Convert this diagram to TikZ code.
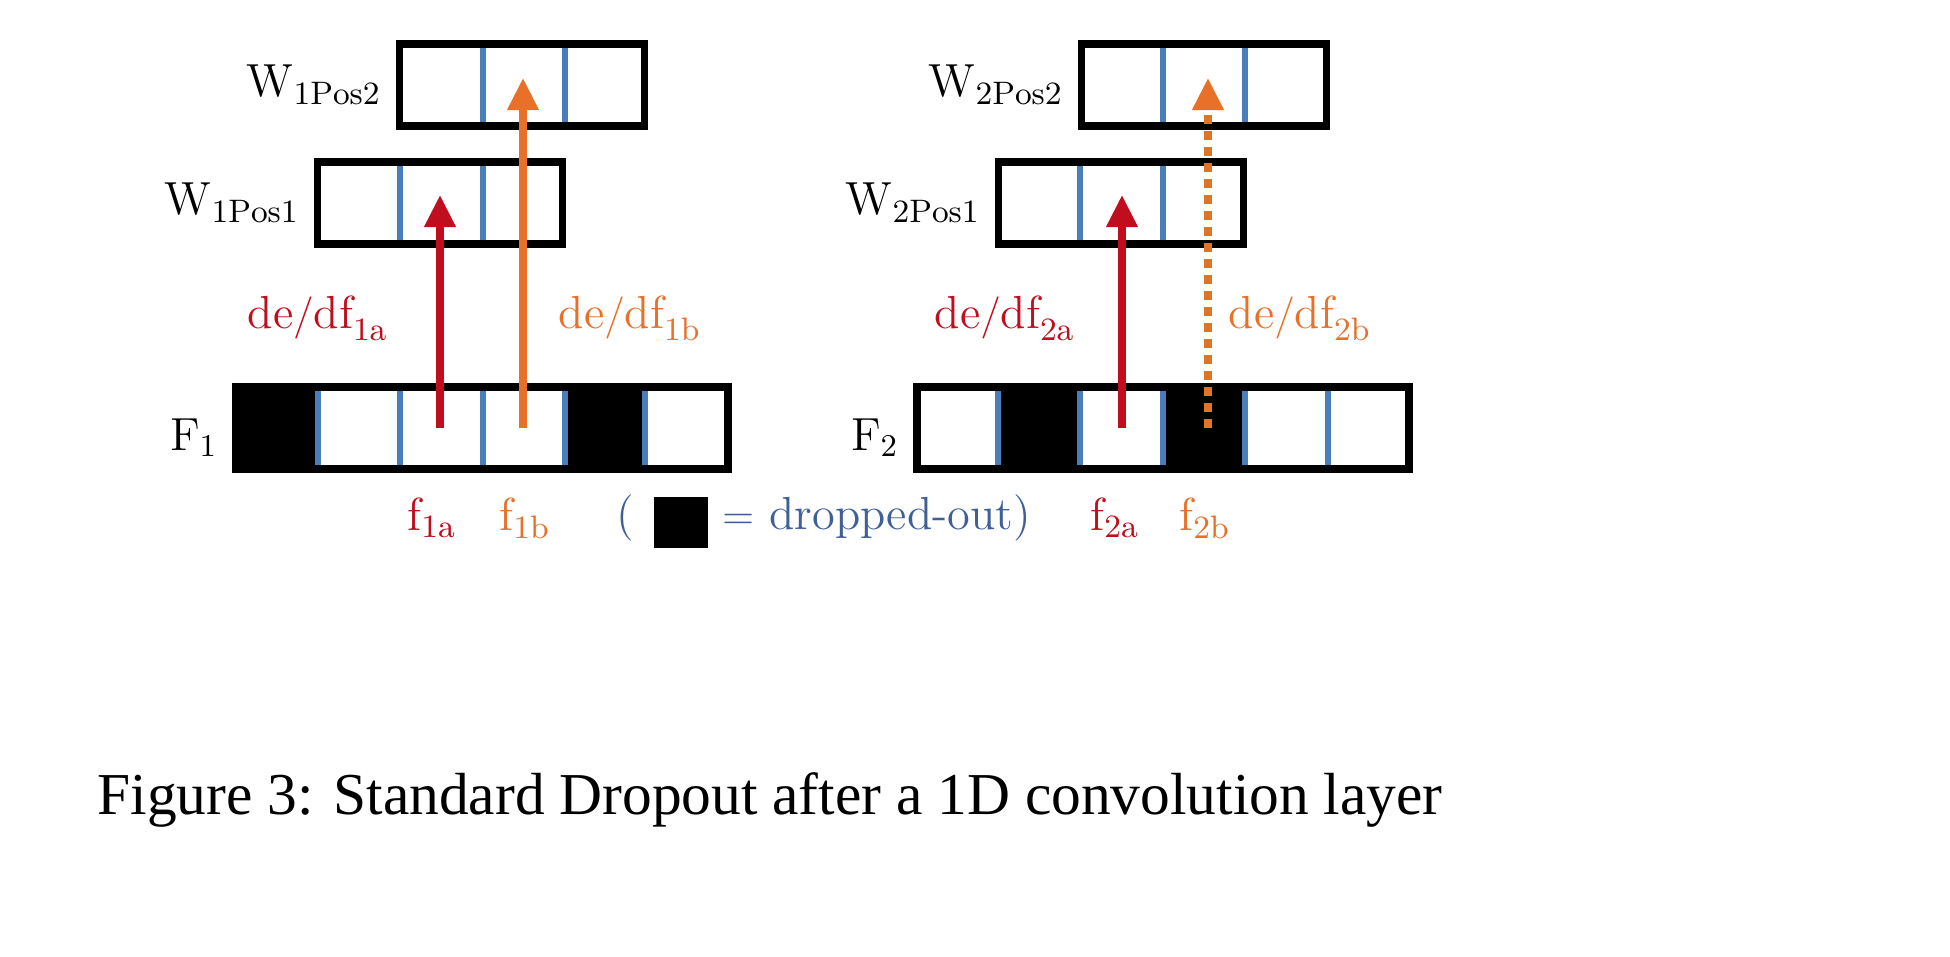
\documentclass[tikz,border=0pt]{standalone}
\usepackage{fontspec}
\newfontfamily\capfont{Liberation Serif}
\usetikzlibrary{arrows.meta}
\definecolor{cred}{RGB}{192,14,30}
\definecolor{corange}{RGB}{232,112,40}
\definecolor{cblue}{RGB}{74,126,186}
\definecolor{ctext}{RGB}{62,96,150}
\tikzset{
	wbox/.style   = {draw, line width=2.2pt, rectangle, inner sep=0pt,
		minimum width=2.45cm, minimum height=0.82cm},
	fbox/.style   = {wbox, minimum width=4.92cm},
	drop/.style   = {fill=black},
	cut/.style    = {cblue, line width=1.6pt},
	grad/.style   = {line width=2pt, -{Triangle[width=0.3cm,length=0.32cm]}},
	lab/.style    = {font=\fontsize{13.2}{15}\selectfont, inner sep=1pt}
}
\begin{document}
\begin{tikzpicture}[x=0.01cm, y=-0.01cm]
\useasboundingbox (0,0) rectangle (1950,956);
% left column
\fill[drop] (236,387) rectangle (318,469);
\fill[drop] (565,387) rectangle (645,469);
\foreach \x in {318,400,483,565,645} \draw[cut] (\x,387) -- (\x,469);
\foreach \x in {483,565} \draw[cut] (\x,43) -- (\x,126);
\foreach \x in {400,483} \draw[cut] (\x,162) -- (\x,243);
\node[wbox] (w12) at (522,85) {};
\node[wbox] (w11) at (440,203) {};
\node[fbox] (f1) at (482,428) {};
\node[lab, anchor=east] (lw12) at ([xshift=-0.1cm]w12.west) {$\mathrm{W}_{\mathrm{1Pos2}}$};
\node[lab, anchor=east] (lw11) at ([xshift=-0.1cm]w11.west) {$\mathrm{W}_{\mathrm{1Pos1}}$};
\node[lab, anchor=east] (lf1) at ([xshift=-0.1cm,yshift=-0.1cm]f1.west) {$\mathrm{F}_{1}$};
\coordinate (s1a) at (440,428);
\coordinate (s1b) at (523,428);
\coordinate (t1a) at (440,195);
\coordinate (t1b) at (523,78);
\draw[grad, cred] (s1a) -- (t1a);
\draw[grad, corange] (s1b) -- (t1b);
\node[lab, cred] (g1a) at (318,318) {$\mathrm{de/df}_{\mathrm{1a}}$};
\node[lab, corange] (g1b) at (630,318) {$\mathrm{de/df}_{\mathrm{1b}}$};
\node[lab, cred] (n1a) at (432,518) {$\mathrm{f}_{\mathrm{1a}}$};
\node[lab, corange] (n1b) at (525,518) {$\mathrm{f}_{\mathrm{1b}}$};
% legend
\node[lab, ctext] (lp) at (625,518) {(};
\node[drop, minimum width=0.53cm, minimum height=0.51cm, inner sep=0pt] (sq) at (681,522) {};
\node[lab, ctext, anchor=west] (lt) at (718,518) {$=$ dropped-out)};
% right column
\fill[drop] (998,387) rectangle (1080,469);
\fill[drop] (1163,387) rectangle (1245,469);
\foreach \x in {998,1080,1163,1245,1328} \draw[cut] (\x,387) -- (\x,469);
\foreach \x in {1163,1245} \draw[cut] (\x,43) -- (\x,126);
\foreach \x in {1080,1163} \draw[cut] (\x,162) -- (\x,243);
\node[wbox] (w22) at (1204,85) {};
\node[wbox] (w21) at (1121,203) {};
\node[fbox] (f2) at (1163,428) {};
\node[lab, anchor=east] (lw22) at ([xshift=-0.1cm]w22.west) {$\mathrm{W}_{\mathrm{2Pos2}}$};
\node[lab, anchor=east] (lw21) at ([xshift=-0.1cm]w21.west) {$\mathrm{W}_{\mathrm{2Pos1}}$};
\node[lab, anchor=east] (lf2) at ([xshift=-0.1cm,yshift=-0.1cm]f2.west) {$\mathrm{F}_{2}$};
\coordinate (s2a) at (1122,428);
\coordinate (s2b) at (1208,428);
\coordinate (t2a) at (1122,195);
\coordinate (t2b) at (1208,78);
\draw[grad, cred] (s2a) -- (t2a);
\draw[grad, corange, dash pattern=on 0.09cm off 0.07cm] (s2b) -- (t2b);
\node[lab, cred] (g2a) at (1005,318) {$\mathrm{de/df}_{\mathrm{2a}}$};
\node[lab, corange] (g2b) at (1300,318) {$\mathrm{de/df}_{\mathrm{2b}}$};
\node[lab, cred] (n2a) at (1115,518) {$\mathrm{f}_{\mathrm{2a}}$};
\node[lab, corange] (n2b) at (1205,518) {$\mathrm{f}_{\mathrm{2b}}$};
% caption
\node[font=\capfont\fontsize{16.9}{19}\selectfont] (cap) at (770,800) {Figure 3: Standard Dropout after a 1D convolution layer};
\end{tikzpicture}
\end{document}
